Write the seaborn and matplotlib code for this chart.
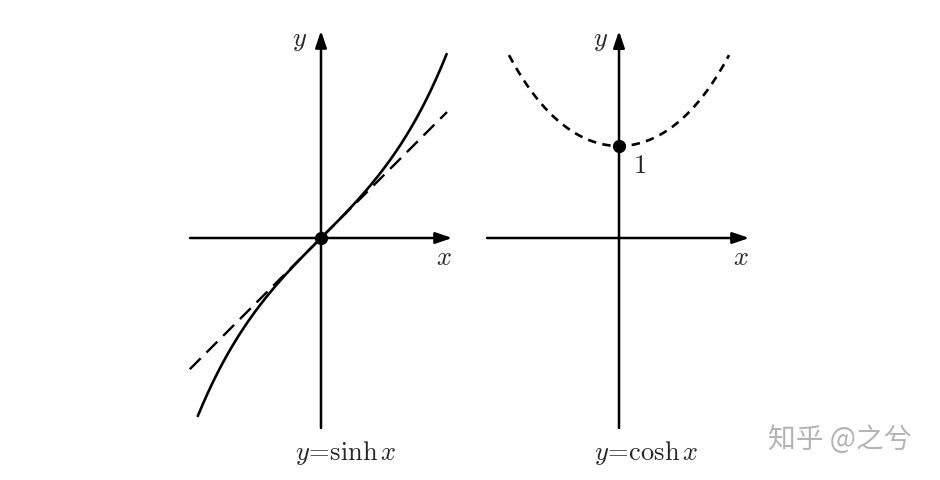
import numpy as np
import matplotlib
matplotlib.use("Agg")
import matplotlib.pyplot as plt
import seaborn as sns

# data
sinh_domain = [-1.54, 1.57]       # x-range of the solid sinh curve
tangent_domain = [-1.64, 1.575]   # x-range of the dashed line y = x
cosh_domain = [-1.31, 1.31]       # x-range of the dotted cosh curve
left_marks = [(0.0, 0.0)]         # dot at the origin
right_marks = [(0.0, 1.0)]        # dot at (0, 1)
titles = [r"$y\!=\!\sinh x$", r"$y\!=\!\cosh x$"]
watermark = "知乎 @之兮"

sns.set_style("white")
plt.rcParams["mathtext.fontset"] = "cm"
plt.rcParams["font.family"] = ["DejaVu Sans"]

W, H = 940, 480
fig = plt.figure(figsize=(W / 100, H / 100), dpi=100)


def make_axes(px0, px1, py0, py1, ox, oy, ux, uy):
    # axes placed in pixel box, data units ux/uy px, origin at (ox, oy) px
    ax = fig.add_axes([px0 / W, (H - py1) / H, (px1 - px0) / W, (py1 - py0) / H])
    ax.set_xlim((px0 - ox) / ux, (px1 - ox) / ux)
    ax.set_ylim((oy - py1) / uy, (oy - py0) / uy)
    ax.axis("off")
    return ax


def draw_arrows(ax, xl, yl):
    style = dict(arrowstyle="-|>,head_length=1.0,head_width=0.34", lw=1.8,
                 color="black", shrinkA=0, shrinkB=0)
    ax.annotate("", xy=(xl[1], 0), xytext=(xl[0], 0), arrowprops=style)
    ax.annotate("", xy=(0, yl[1]), xytext=(0, yl[0]), arrowprops=style)


tfs = 19

# left panel: sinh
axL = make_axes(180, 460, 20, 440, 321, 238, 80, 80)
draw_arrows(axL, [-1.6375, 1.64], [-2.375, 2.59])
xs = np.linspace(sinh_domain[0], sinh_domain[1], 300)
sns.lineplot(x=xs, y=np.sinh(xs), ax=axL, color="black", lw=1.9, sort=False)
xt = np.array(tangent_domain)
axL.plot(xt, xt, color="black", lw=1.7, dashes=(6.5, 3.5))
axL.plot(*zip(*left_marks), "o", color="black", ms=8.5)
axL.text(-0.27, 2.47, "$y$", fontsize=tfs, ha="center", va="center")
axL.text(1.53, -0.25, "$x$", fontsize=tfs, ha="center", va="center")
axL.text(0.31, -2.69, titles[0], fontsize=tfs, ha="center", va="center", clip_on=False)

# right panel: cosh
axR = make_axes(480, 760, 20, 440, 619, 238, 84, 92)
draw_arrows(axR, [-1.571, 1.55], [-2.065, 2.25])
xc = np.linspace(cosh_domain[0], cosh_domain[1], 300)
sns.lineplot(x=xc, y=np.cosh(xc), ax=axR, color="black", lw=1.9, sort=False,
             dashes=False).lines[0].set_dashes((3.2, 2.4))
axR.plot(*zip(*right_marks), "o", color="black", ms=8.5)
axR.text(-0.22, 2.15, "$y$", fontsize=tfs, ha="center", va="center")
axR.text(1.45, -0.22, "$x$", fontsize=tfs, ha="center", va="center")
axR.text(0.25, 0.78, "$1$", fontsize=tfs, ha="center", va="center")
axR.text(0.32, -2.34, titles[1], fontsize=tfs, ha="center", va="center", clip_on=False)

fig.text(840 / W, 1 - 440 / H, watermark, fontsize=20, color="#b4b4b4",
         ha="center", va="center", family=["Noto Sans CJK SC", "DejaVu Sans"])

fig.savefig("out.png", dpi=100, facecolor="white")
